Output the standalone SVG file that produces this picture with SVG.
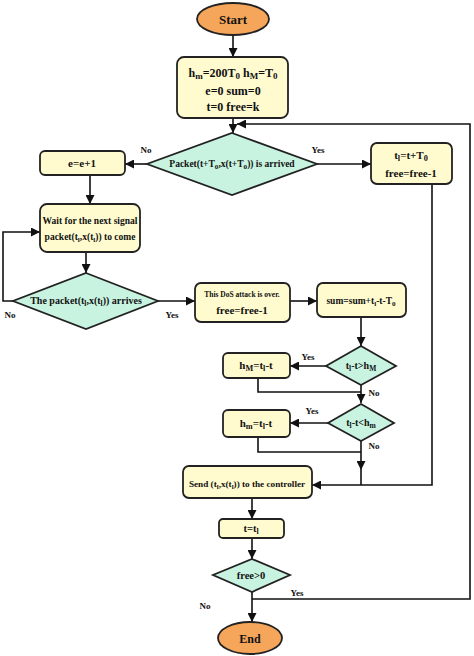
<svg xmlns="http://www.w3.org/2000/svg" width="474" height="656" viewBox="0 0 474 656">
<defs>
<marker id="ah" viewBox="0 0 10 10" refX="10" refY="5" markerWidth="9" markerHeight="9" markerUnits="userSpaceOnUse" orient="auto">
<path d="M0,0 L10,5 L0,10 z" fill="#111"/>
</marker>
<style>
.box{fill:#FFFBCF;stroke:#222;stroke-width:1.8}
.dia{fill:#C8F3E0;stroke:#222;stroke-width:1.8}
.term{fill:#F5A65B;stroke:#222;stroke-width:1.8}
.c{fill:none;stroke:#111;stroke-width:1.6}
.a{marker-end:url(#ah)}
text{font-family:"Liberation Serif","Times New Roman",serif;font-weight:bold;fill:#111;text-anchor:middle}
.lb{font-size:9px}
.s{font-size:75%}
</style>
</defs>
<g id="connectors">
<path class="c a" d="M233,35 V57"/>
<path class="c a" d="M233,118 V133"/>
<path class="c a" d="M252,599 H470 V124 H237"/>
<path class="c a" d="M147,164 H125"/>
<path class="c a" d="M317,164 H371"/>
<path class="c a" d="M432,184 V485 H312"/>
<path class="c a" d="M90,175 V204"/>
<path class="c a" d="M86,252 V273"/>
<path class="c a" d="M13,301 H3 V232 H40"/>
<path class="c a" d="M158,301 H195"/>
<path class="c a" d="M290,301 H317"/>
<path class="c a" d="M361,317 V346"/>
<path class="c a" d="M326,366 H290"/>
<path class="c a" d="M361,385 V403"/>
<path class="c" d="M258,378 V392 H361"/>
<path class="c a" d="M328,423 H290"/>
<path class="c a" d="M361,441 V470"/>
<path class="c" d="M361,470 V485"/>
<path class="c" d="M258,437 V452 H361"/>
<path class="c a" d="M252,498 V519"/>
<path class="c a" d="M252,538 V559"/>
<path class="c a" d="M252,592 V622"/>
<text class="lb" x="146" y="153">No</text>
<text class="lb" x="318" y="153">Yes</text>
<text class="lb" x="10" y="318">No</text>
<text class="lb" x="172" y="318">Yes</text>
<text class="lb" x="308" y="360">Yes</text>
<text class="lb" x="374" y="396">No</text>
<text class="lb" x="312" y="414">Yes</text>
<text class="lb" x="374" y="449">No</text>
<text class="lb" x="205" y="609">No</text>
<text class="lb" x="297" y="596">Yes</text>
</g>
<g id="start">
<ellipse class="term" cx="233" cy="19" rx="36" ry="16"/>
<text x="233" y="24" font-size="13">Start</text>
</g>
<g id="init">
<rect class="box" x="177" y="57" width="111" height="61" rx="7"/>
<text x="233" y="77" font-size="12">h<tspan class="s" dy="2">m</tspan><tspan dy="-2">=200T</tspan><tspan class="s" dy="2">0</tspan><tspan dy="-2"> h</tspan><tspan class="s" dy="2">M</tspan><tspan dy="-2">=T</tspan><tspan class="s" dy="2">0</tspan></text>
<text x="233" y="95" font-size="12">e=0 sum=0</text>
<text x="233" y="111" font-size="12">t=0 free=k</text>
</g>
<g id="d-arrived">
<polygon class="dia" points="232,133 317,164 232,195 147,164"/>
<text x="232" y="167" font-size="9.5">Packet(t+T<tspan class="s" dy="2">0</tspan><tspan dy="-2">,x(t+T</tspan><tspan class="s" dy="2">0</tspan><tspan dy="-2">)) is arrived</tspan></text>
</g>
<g id="tl-box">
<rect class="box" x="371" y="143" width="81" height="41" rx="6"/>
<text x="411" y="159" font-size="11">t<tspan class="s" dy="2">l</tspan><tspan dy="-2">=t+T</tspan><tspan class="s" dy="2">0</tspan></text>
<text x="411" y="177" font-size="11">free=free-1</text>
</g>
<g id="e-box">
<rect class="box" x="40" y="151" width="85" height="24" rx="5"/>
<text x="82" y="167" font-size="11">e=e+1</text>
</g>
<g id="wait">
<rect class="box" x="40" y="204" width="100" height="48" rx="7"/>
<text x="90" y="224" font-size="9.5">Wait for the next signal</text>
<text x="90" y="240" font-size="9.5">packet(t<tspan class="s" dy="2">l</tspan><tspan dy="-2">,x(t</tspan><tspan class="s" dy="2">l</tspan><tspan dy="-2">)) to come</tspan></text>
</g>
<g id="d-arrives">
<polygon class="dia" points="86,273 158,301 86,329 13,301"/>
<text x="86" y="304" font-size="10">The packet(t<tspan class="s" dy="2">l</tspan><tspan dy="-2">,x(t</tspan><tspan class="s" dy="2">l</tspan><tspan dy="-2">)) arrives</tspan></text>
</g>
<g id="dos">
<rect class="box" x="195" y="283" width="95" height="39" rx="6"/>
<text x="242" y="297" font-size="7.5">This DoS attack is over.</text>
<text x="242" y="314" font-size="11">free=free-1</text>
</g>
<g id="sum">
<rect class="box" x="317" y="283" width="89" height="34" rx="6"/>
<text x="361" y="304" font-size="9.5">sum=sum+t<tspan class="s" dy="2">l</tspan><tspan dy="-2">-t-T</tspan><tspan class="s" dy="2">0</tspan></text>
</g>
<g id="d-hM">
<polygon class="dia" points="361,346 396,366 361,385 326,366"/>
<text x="361" y="369" font-size="10">t<tspan class="s" dy="2">l</tspan><tspan dy="-2">-t&gt;h</tspan><tspan class="s" dy="2">M</tspan></text>
</g>
<g id="hM-box">
<rect class="box" x="223" y="353" width="67" height="25" rx="5"/>
<text x="256" y="369" font-size="11">h<tspan class="s" dy="2">M</tspan><tspan dy="-2">=t</tspan><tspan class="s" dy="2">l</tspan><tspan dy="-2">-t</tspan></text>
</g>
<g id="d-hm">
<polygon class="dia" points="361,404 394,423 361,441 328,423"/>
<text x="361" y="426" font-size="10">t<tspan class="s" dy="2">l</tspan><tspan dy="-2">-t&lt;h</tspan><tspan class="s" dy="2">m</tspan></text>
</g>
<g id="hm-box">
<rect class="box" x="223" y="410" width="67" height="27" rx="5"/>
<text x="256" y="427" font-size="11">h<tspan class="s" dy="2">m</tspan><tspan dy="-2">=t</tspan><tspan class="s" dy="2">l</tspan><tspan dy="-2">-t</tspan></text>
</g>
<g id="send">
<rect class="box" x="183" y="466" width="129" height="32" rx="6"/>
<text x="247" y="487" font-size="9.2">Send (t<tspan class="s" dy="2">l</tspan><tspan dy="-2">,x(t</tspan><tspan class="s" dy="2">l</tspan><tspan dy="-2">)) to the controller</tspan></text>
</g>
<g id="t-box">
<rect class="box" x="219" y="519" width="65" height="19" rx="4"/>
<text x="251" y="532" font-size="10.5">t=t<tspan class="s" dy="2">l</tspan></text>
</g>
<g id="d-free">
<polygon class="dia" points="252,559 290,575 252,592 213,575"/>
<text x="251" y="579" font-size="10.5">free&gt;0</text>
</g>
<g id="end">
<ellipse class="term" cx="250" cy="638" rx="32" ry="16"/>
<text x="250" y="643" font-size="12">End</text>
</g>
</svg>
